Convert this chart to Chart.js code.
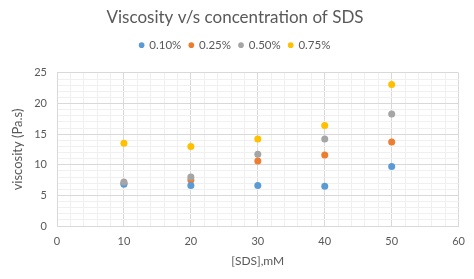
<!DOCTYPE html>
<html>
<head>
<meta charset="utf-8">
<script src="https://cdn.jsdelivr.net/npm/chart.js@4/dist/chart.umd.min.js"></script>
<style>
html,body{margin:0;padding:0;background:#fff;}
#wrap{width:474px;height:279px;position:relative;}
</style>
</head>
<body>
<div id="wrap"><canvas id="c"></canvas></div>
<script>
const concentrations = [10, 20, 30, 40, 50];
const seriesNames = ["0.10%", "0.25%", "0.50%", "0.75%"];
const visc010 = [6.8, 6.6, 6.6, 6.5, 9.7];
const visc025 = [7.0, 7.5, 10.6, 11.6, 13.7];
const visc050 = [7.2, 8.0, 11.7, 14.2, 18.3];
const visc075 = [13.5, 13.0, 14.2, 16.4, 23.1];
const colors = ["#5B9BD5", "#ED7D31", "#A5A5A5", "#FFC000"];
// drawing order: lower value is drawn on top
const drawOrder = [3, 4, 2, 1];

const allSeries = [visc010, visc025, visc050, visc075];
const datasets = allSeries.map((vals, i) => ({
  label: seriesNames[i],
  data: concentrations.map((x, j) => ({x: x, y: vals[j]})),
  backgroundColor: colors[i],
  borderColor: colors[i],
  pointRadius: 3.5,
  pointHoverRadius: 3.5,
  pointBorderWidth: 0,
  showLine: false,
  order: drawOrder[i]
}));

const txt = "#595959";
const fam = "Lato, 'Open Sans', sans-serif";

const legendPad = {
  id: 'legendPad',
  beforeInit(chart) {
    const orig = chart.legend.fit;
    chart.legend.fit = function() {
      orig.bind(chart.legend)();
      this.height += 12;
    };
  }
};

new Chart(document.getElementById('c'), {
  type: 'scatter',
  data: { datasets },
  plugins: [legendPad],
  options: {
    responsive: true,
    maintainAspectRatio: false,
    animation: false,
    layout: { padding: { left: 10, right: 14, top: 0, bottom: 11 } },
    plugins: {
      tooltip: { enabled: false },
      title: {
        display: true,
        text: "Viscosity v/s concentration of SDS",
        color: txt,
        font: { family: fam, size: 17, weight: 'normal' },
        padding: { top: 7, bottom: 4 }
      },
      legend: {
        display: true,
        labels: {
          color: txt,
          font: { family: fam, size: 11.5 },
          usePointStyle: true,
          pointStyle: 'circle',
          boxWidth: 4,
          boxHeight: 4,
          padding: 8,
          sort: (a, b) => a.datasetIndex - b.datasetIndex
        }
      }
    },
    scales: {
      x: {
        type: 'linear',
        min: 0, max: 60,
        afterFit: (s) => { s.height = 42; },
        border: { color: '#d9d9d9' },
        grid: {
          drawTicks: false,
          color: (ctx) => (ctx.tick && ctx.tick.value % 10 === 0) ? '#d9d9d9' : '#f0f0f0'
        },
        ticks: {
          stepSize: 2,
          autoSkip: false,
          maxRotation: 0,
          padding: 9,
          color: txt,
          font: { family: fam, size: 11 },
          callback: (v) => (v % 10 === 0 ? String(v) : '')
        },
        title: {
          display: true,
          text: "[SDS],mM",
          color: txt,
          font: { family: fam, size: 12 },
          padding: { top: 0, bottom: 0 }
        }
      },
      y: {
        type: 'linear',
        min: 0, max: 25,
        afterFit: (s) => { s.width = 47; },
        border: { color: '#d9d9d9' },
        grid: {
          drawTicks: false,
          color: (ctx) => (ctx.tick && ctx.tick.value % 5 === 0) ? '#d9d9d9' : '#f0f0f0'
        },
        ticks: {
          stepSize: 1,
          autoSkip: false,
          padding: 10,
          color: txt,
          font: { family: fam, size: 11 },
          callback: (v) => (v % 5 === 0 ? String(v) : '')
        },
        title: {
          display: true,
          text: "viscosity (Pa.s)",
          color: txt,
          font: { family: fam, size: 13 },
          padding: { top: 0, bottom: 2 }
        }
      }
    }
  }
});
</script>
</body>
</html>
